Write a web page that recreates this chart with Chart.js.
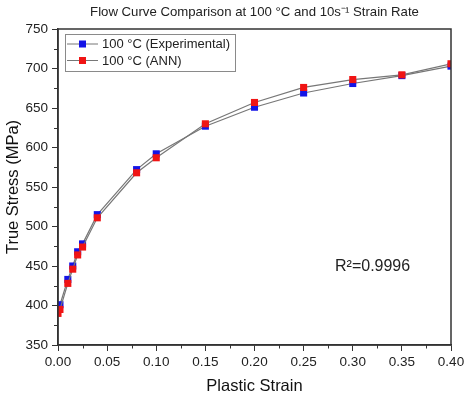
<!DOCTYPE html>
<html>
<head>
<meta charset="utf-8">
<script src="https://cdn.jsdelivr.net/npm/chart.js@4"></script>
<style>
html,body{margin:0;padding:0;background:#fff;}
#wrap{width:474px;height:397px;}
</style>
</head>
<body>
<div id="wrap"><canvas id="c" width="474" height="397"></canvas></div>
<script>
const chartTitle = 'Flow Curve Comparison at 100 °C and 10s\u207B\u00B9 Strain Rate';
const xTitle = 'Plastic Strain';
const yTitle = 'True Stress (MPa)';
const seriesNames = ['100 °C (Experimental)', '100 °C (ANN)'];
const expStrain = [0.002, 0.01, 0.015, 0.02, 0.025, 0.04, 0.08, 0.10, 0.15, 0.20, 0.25, 0.30, 0.35, 0.40];
const expStress = [401, 433, 450, 468, 478, 515, 572, 592, 627, 651, 669, 681, 691, 703];
const annStrain = [0, 0.002, 0.01, 0.015, 0.02, 0.025, 0.04, 0.08, 0.10, 0.15, 0.20, 0.25, 0.30, 0.35, 0.40];
const annStress = [390, 395, 428, 446, 464, 474, 511, 568, 587, 630, 657, 676, 686, 692, 706];
const r2Text = 'R\u00B2=0.9996';
const xMinorTicks = [0.025, 0.075, 0.125, 0.175, 0.225, 0.275, 0.325, 0.375];
const yMinorTicks = [375, 425, 475, 525, 575, 625, 675, 725];

const FONT = "'Liberation Sans', Arial, sans-serif";
const toXY = (xs, ys) => xs.map((x, i) => ({x: x, y: ys[i]}));

const framePlugin = {
  id: 'frame',
  afterDraw(chart) {
    const ctx = chart.ctx;
    const a = chart.chartArea;
    const xs = chart.scales.x, ys = chart.scales.y;
    ctx.save();
    // title centred over the plot area
    ctx.fillStyle = '#222';
    ctx.font = '13.2px ' + FONT;
    ctx.textAlign = 'center';
    ctx.textBaseline = 'middle';
    ctx.fillText(chartTitle, (a.left + a.right) / 2, 12);
    // frame
    ctx.strokeStyle = '#333';
    ctx.lineWidth = 1.5;
    ctx.strokeRect(a.left, a.top, a.right - a.left, a.bottom - a.top);
    // minor ticks
    ctx.lineWidth = 1;
    ctx.beginPath();
    xMinorTicks.forEach(v => {
      const px = Math.round(xs.getPixelForValue(v)) + 0.5;
      ctx.moveTo(px, a.bottom);
      ctx.lineTo(px, a.bottom + 3.5);
    });
    yMinorTicks.forEach(v => {
      const py = Math.round(ys.getPixelForValue(v)) + 0.5;
      ctx.moveTo(a.left, py);
      ctx.lineTo(a.left - 4, py);
    });
    ctx.stroke();
    // legend
    const lx = 65, ly = 34, lw = 170, lh = 37;
    ctx.strokeStyle = '#8a8a8a';
    ctx.lineWidth = 1;
    ctx.strokeRect(lx + 0.5, ly + 0.5, lw, lh);
    const rows = [44, 60.5];
    chart.data.datasets.forEach((ds, i) => {
      const y = rows[i];
      ctx.strokeStyle = '#777';
      ctx.lineWidth = 1;
      ctx.beginPath();
      ctx.moveTo(67, y);
      ctx.lineTo(98, y);
      ctx.stroke();
      ctx.fillStyle = ds.pointBackgroundColor;
      ctx.fillRect(79, y - 3.5, 7, 7);
      ctx.fillStyle = '#222';
      ctx.font = '13px ' + FONT;
      ctx.textBaseline = 'middle';
      ctx.textAlign = 'left';
      ctx.fillText(ds.label, 102, y + 0.5);
    });
    // R^2 annotation
    ctx.fillStyle = '#222';
    ctx.font = '16px ' + FONT;
    ctx.textBaseline = 'alphabetic';
    ctx.textAlign = 'left';
    ctx.fillText(r2Text, 335, 271);
    ctx.restore();
  }
};

new Chart(document.getElementById('c'), {
  type: 'line',
  data: {
    datasets: [
      {
        label: seriesNames[0],
        data: toXY(expStrain, expStress),
        borderColor: '#777',
        borderWidth: 1.2,
        pointStyle: 'rect',
        pointRadius: 5,
        pointBorderWidth: 0,
        pointBackgroundColor: '#1414e6',
        pointBorderColor: '#1414e6',
        order: 2,
        tension: 0
      },
      {
        label: seriesNames[1],
        data: toXY(annStrain, annStress),
        borderColor: '#777',
        borderWidth: 1.2,
        pointStyle: 'rect',
        pointRadius: 5,
        pointBorderWidth: 0,
        pointBackgroundColor: '#f01414',
        pointBorderColor: '#f01414',
        order: 1,
        tension: 0
      }
    ]
  },
  options: {
    responsive: false,
    animation: false,
    events: [],
    layout: {padding: {top: 29, right: 23, bottom: 0, left: 0}},
    plugins: {
      legend: {display: false},
      tooltip: {enabled: false},
      title: {display: false}
    },
    scales: {
      x: {
        type: 'linear',
        min: 0, max: 0.4,
        afterFit(s) { s.height = 52; },
        border: {display: true, color: '#333', width: 1.5},
        grid: {drawOnChartArea: false, drawTicks: true, tickLength: 6, tickColor: '#333', tickWidth: 1},
        ticks: {
          stepSize: 0.05,
          color: '#222',
          padding: 3,
          maxRotation: 0,
          autoSkip: false,
          font: {family: FONT, size: 13.5},
          callback: v => Number(v).toFixed(2)
        },
        title: {
          display: true, text: xTitle, color: '#111',
          font: {family: FONT, size: 16.5},
          padding: {top: 0, bottom: 1}
        }
      },
      y: {
        type: 'linear',
        min: 350, max: 750,
        afterFit(s) { s.width = 58; },
        border: {display: true, color: '#333', width: 1.5},
        grid: {drawOnChartArea: false, drawTicks: true, tickLength: 6, tickColor: '#333', tickWidth: 1},
        ticks: {
          stepSize: 50,
          color: '#222',
          padding: 4,
          autoSkip: false,
          font: {family: FONT, size: 13.5}
        },
        title: {
          display: true, text: yTitle, color: '#111',
          font: {family: FONT, size: 16.5},
          padding: {top: 4, bottom: 0}
        }
      }
    }
  },
  plugins: [framePlugin]
});
</script>
</body>
</html>
